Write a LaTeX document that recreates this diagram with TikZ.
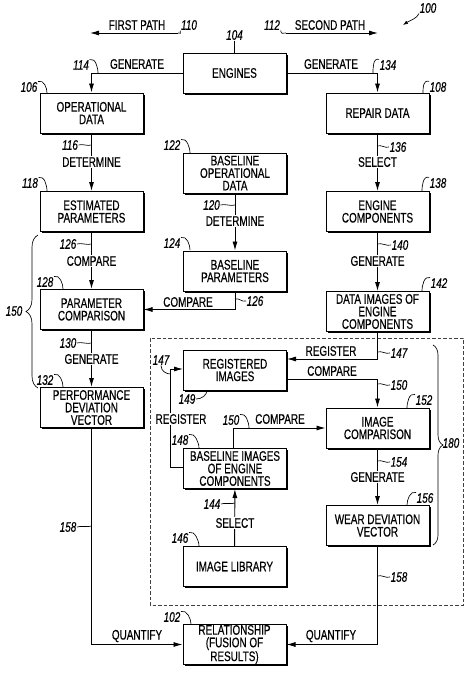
\documentclass[tikz,border=0pt]{standalone}
\usepackage{fontspec}
\setmainfont{Liberation Sans}[FakeStretch=0.72,FakeBold=0.4]
\usetikzlibrary{arrows.meta,shadows,decorations.pathreplacing}
\newcommand{\bxfont}{\fontsize{13.8}{12.5}\selectfont}
\newcommand{\nmfont}{\fontsize{13.8}{12.5}\selectfont\itshape}
\begin{document}
\begin{tikzpicture}[x=1pt,y=-1pt,
  box/.style={draw, line width=1pt, fill=white, minimum width=103pt, minimum height=40pt,
    align=center, inner sep=1pt, font=\bxfont,
    drop shadow={shadow xshift=1.5pt, shadow yshift=-1.5pt, fill=black, opacity=1}},
  lbl/.style={font=\bxfont, inner sep=1pt},
  onl/.style={lbl, fill=white},
  num/.style={font=\nmfont, inner sep=0.5pt},
  con/.style={line width=0.9pt},
  arr/.style={con, -{Latex[length=9pt,width=5pt]}},
  ld/.style={line width=0.65pt},
  dbox/.style={draw=black!75, line width=0.6pt, dash pattern=on 3.5pt off 2pt},
]
\useasboundingbox (0,0) rectangle (474,675);

% dashed enclosure
\draw[dbox] (150,338) rectangle (463,605);

% boxes
\node[box] (eng) at (234.5,73) {ENGINES};
\node[box] (opd) at (91.5,113) {OPERATIONAL\\DATA};
\node[box] (rep) at (377.5,113) {REPAIR DATA};
\node[box] (est) at (91.5,211.5) {ESTIMATED\\PARAMETERS};
\node[box] (bod) at (235,173) {BASELINE\\OPERATIONAL\\DATA};
\node[box] (bpa) at (235,271) {BASELINE\\PARAMETERS};
\node[box] (pco) at (91.5,309.5) {PARAMETER\\COMPARISON};
\node[box] (ecp) at (377.5,211.5) {ENGINE\\COMPONENTS};
\node[box] (dim) at (377.5,311.5) {DATA IMAGES OF\\ENGINE\\COMPONENTS};
\node[box] (pdv) at (91.5,407.5) {PERFORMANCE\\DEVIATION\\VECTOR};
\node[box] (rim) at (235,370) {REGISTERED\\IMAGES};
\node[box] (bim) at (235,468.5) {BASELINE IMAGES\\OF ENGINE\\COMPONENTS};
\node[box] (icp) at (377.5,428) {IMAGE\\COMPARISON};
\node[box] (wdv) at (377.5,525.5) {WEAR DEVIATION\\VECTOR};
\node[box] (lib) at (234.5,566.5) {IMAGE LIBRARY};
\node[box] (rel) at (234.5,644.5) {RELATIONSHIP\\(FUSION OF\\RESULTS)};

% path arrows at top
\coordinate (c110) at (178,33);
\coordinate (c110b) at (90,33);
\coordinate (c112) at (286,33);
\coordinate (c112b) at (378,33);
\draw[arr] (c110) -- (c110b);
\draw[arr] (c112) -- (c112b);

% connectors
\draw[arr] (eng.west) -| (opd.north);
\draw[arr] (eng.east) -| (rep.north);
\draw[arr] (opd) -- (est);
\draw[arr] (est) -- (pco);
\draw[arr] (pco) -- (pdv);
\draw[arr] (bod) -- (bpa);
\draw[arr] (bpa.south) |- (pco.east);
\draw[arr] (rep) -- (ecp);
\draw[arr] (ecp) -- (dim);
\draw[arr] (dim.south) |- ([yshift=11pt]rim.east);
\draw[arr] ([yshift=-9pt]rim.east) -| (icp.north);
\draw[arr] (icp) -- (wdv);
\draw[arr] (lib) -- (bim);
\draw[arr] ([xshift=-2pt]bim.north) |- (icp.west);
\draw[arr] ([yshift=1.5pt]bim.west) -- ++(-13,0) |- ([yshift=1pt]rim.west);
\draw[arr] (pdv.south) |- (rel.west);
\draw[arr] (wdv.south) |- (rel.east);

% connector labels
\node[lbl] (t1) at (137,25) {FIRST PATH};
\node[lbl] (t2) at (330,25) {SECOND PATH};
\node[lbl] (t3) at (137,64) {GENERATE};
\node[lbl] (t4) at (331,64) {GENERATE};
\node[onl] (t5) at (91.5,162) {DETERMINE};
\node[onl] (t6) at (91.5,261) {COMPARE};
\node[onl] (t7) at (91.5,359) {GENERATE};
\node[onl] (t8) at (235,221) {DETERMINE};
\node[lbl] (t9) at (188,302) {COMPARE};
\node[onl] (t10) at (377.5,162) {SELECT};
\node[onl] (t11) at (377.5,261) {GENERATE};
\node[lbl] (t12) at (331,351) {REGISTER};
\node[lbl] (t13) at (332,371) {COMPARE};
\node[onl] (t14) at (181,419) {REGISTER};
\node[lbl] (t15) at (280,419) {COMPARE};
\node[onl] (t16) at (377.5,477) {GENERATE};
\node[onl] (t17) at (235,523) {SELECT};
\node[lbl] (t18) at (137,636) {QUANTIFY};
\node[lbl] (t19) at (331,636) {QUANTIFY};

% reference numerals
\node[num] (n100) at (428,8) {100};
\node[num] (n110) at (189,25) {110};
\node[num] (n112) at (272,25) {112};
\node[num] (n104) at (234.5,35) {104};
\node[num] (n114) at (81,65) {114};
\node[num] (n134) at (388,65) {134};
\node[num] (n106) at (29,87) {106};
\node[num] (n108) at (438,87) {108};
\node[num] (n116) at (70,145) {116};
\node[num] (n118) at (30,183) {118};
\node[num] (n126a) at (68,244) {126};
\node[num] (n128) at (45,282) {128};
\node[num] (n150a) at (14,311) {150};
\node[num] (n122) at (172,145) {122};
\node[num] (n120) at (211.5,205) {120};
\node[num] (n124) at (172,243) {124};
\node[num] (n126b) at (255,301) {126};
\node[num] (n136) at (398,147) {136};
\node[num] (n138) at (438,183) {138};
\node[num] (n140) at (400,245) {140};
\node[num] (n142) at (439,283) {142};
\node[num] (n130) at (68,343) {130};
\node[num] (n132) at (45,380) {132};
\node[num] (n147b) at (399,353) {147};
\node[num] (n150b) at (399,385) {150};
\node[num] (n152) at (424,400) {152};
\node[num] (n147a) at (161,360) {147};
\node[num] (n149) at (187,399) {149};
\node[num] (n150c) at (231,420) {150};
\node[num] (n148) at (180,440) {148};
\node[num] (n144) at (212,504) {144};
\node[num] (n146) at (180,538) {146};
\node[num] (n154) at (399,462) {154};
\node[num] (n156) at (425,498) {156};
\node[num] (n180) at (451,443) {180};
\node[num] (n158a) at (68,527) {158};
\node[num] (n158b) at (399,577) {158};
\node[num] (n102) at (172,617) {102};

% leader targets
\coordinate (c100) at (403,25);
\coordinate (c114) at (98,73);
\coordinate (c134) at (373,73);
\coordinate (c106) at (47,93);
\coordinate (c108) at (423,93);
\coordinate (c116) at (91.5,145);
\coordinate (c118) at (47,191);
\coordinate (c126a) at (91.5,244);
\coordinate (c128) at (63,289);
\coordinate (c122) at (190,153);
\coordinate (c120) at (235,205);
\coordinate (c124) at (190,250);
\coordinate (c126b) at (235,299);
\coordinate (c136) at (377.5,146);
\coordinate (c138) at (422,191);
\coordinate (c140) at (377.5,244);
\coordinate (c142) at (422,291);
\coordinate (c130) at (91.5,343);
\coordinate (c132) at (63,387);
\coordinate (c147b) at (377.5,352);
\coordinate (c150b) at (377.5,384);
\coordinate (c152) at (407,408);
\coordinate (c147a) at (170.5,374);
\coordinate (c149) at (207,390);
\coordinate (c150c) at (249,428);
\coordinate (c148) at (199,448);
\coordinate (c144) at (235,503);
\coordinate (c146) at (199,546);
\coordinate (c154) at (377.5,461);
\coordinate (c156) at (407,505);
\coordinate (c158a) at (91.5,526);
\coordinate (c158b) at (377.5,576);
\coordinate (c102) at (191,624);

% leaders
\draw[ld,-{Latex[length=5pt,width=3.6pt]}] (n100.south west) .. controls +(-2,5) and +(6,-4) .. (c100);
\draw[ld] (c110) .. controls +(4,0) and +(-1,4) .. (n110.south west);
\draw[ld] (n112.south east) .. controls +(1,4) and +(-4,0) .. (c112);
\draw[ld] (n104.south) -- (eng.north);
% left-of-target curls
\foreach \n in {114,106,118,128,122,124,132,150c,148,146,102}{
  \draw[ld] (n\n.north east) .. controls +(6,-2) and +(0,-5) .. (c\n);
}
% right-of-target curls
\foreach \n in {134,108,138,142,152,156}{
  \draw[ld] (n\n.north west) .. controls +(-6,-2) and +(0,-5) .. (c\n);
}
% short dashes to vertical lines, number on the left
\foreach \n in {116,126a,120,130,144,158a}{
  \draw[ld] (n\n.east) .. controls +(4,-1.5) and +(-4,1.5) .. (c\n);
}
% short dashes, number on the right
\foreach \n in {126b,136,140,147b,150b,154,158b}{
  \draw[ld] (c\n) .. controls +(4,-1.5) and +(-4,1.5) .. (n\n.west);
}
\draw[ld] (n147a.south) .. controls +(0,6) and +(-4,0) .. (c147a);
\draw[ld] (n149.east) .. controls +(6,0) and +(0,5) .. (c149);

% braces
\draw[ld, decorate, decoration={brace, amplitude=12pt}] (38,388) -- (38,235);
\draw[ld, decorate, decoration={brace, amplitude=10pt}] (433,345) -- (433,545);
\end{tikzpicture}
\end{document}
